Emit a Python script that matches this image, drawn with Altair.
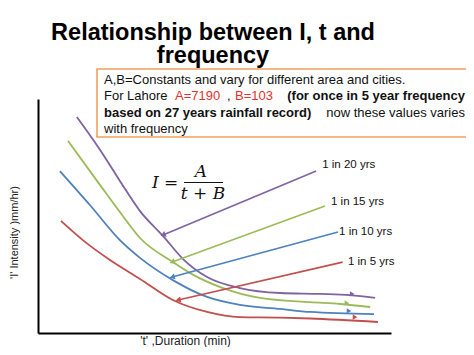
import math
import altair as alt
import pandas as pd

# ---------------- data ----------------
series = ["1 in 20 yrs", "1 in 15 yrs", "1 in 10 yrs", "1 in 5 yrs"]
colors = ["#7F63A2", "#9BBB59", "#4F81BD", "#C0504D"]

# duration t (arbitrary units 0-100) and intensity I (arbitrary units 0-100)
t_20 = [11.0, 17.6, 23.2, 28.9, 35.4, 41.1, 47.9, 57.2, 68.6, 79.9, 88.4, 95.5]
i_20 = [92.3, 78.2, 65.0, 52.1, 41.5, 31.6, 23.9, 19.2, 17.1, 16.7, 16.2, 15.0]
t_15 = [8.5, 17.6, 23.2, 28.9, 38.2, 43.1, 52.4, 62.9, 77.1, 85.6, 94.1]
i_15 = [82.1, 63.2, 51.7, 40.6, 30.3, 25.6, 19.2, 15.0, 13.2, 12.4, 11.1]
t_10 = [6.2, 14.7, 23.2, 28.9, 38.2, 47.9, 57.2, 68.6, 77.1, 95.2]
i_10 = [69.2, 54.7, 39.7, 32.1, 22.6, 15.4, 12.0, 10.3, 9.0, 8.1]
t_5 = [6.5, 12.7, 20.4, 28.9, 38.2, 47.9, 57.2, 68.6, 77.1, 96.3]
i_5 = [47.9, 39.7, 31.2, 23.1, 14.1, 9.0, 6.8, 6.6, 6.2, 4.7]

# label anchors and pointer arrows (label -> curve)
label_t = [80.5, 83.0, 85.3, 87.8]
label_i = [70.5, 54.7, 41.9, 29.1]
ptr_t0 = [78.8, 81.3, 85.0, 86.3]
ptr_i0 = [69.2, 54.3, 43.2, 30.3]
ptr_t1 = [35.4, 38.0, 38.0, 39.7]
ptr_i1 = [41.9, 30.3, 23.9, 14.1]

# arrow heads drawn on the curves near their right end
head_t = [89.0, 87.5, 88.1, 89.8]
head_i = [16.7, 12.8, 9.4, 6.8]

title_lines = ["Relationship between I, t and", "frequency"]
x_title = "'t' ,Duration (min)"
y_title = "'I' Intensity )mm/hr)"

# ---------------- layout ----------------
W, H = 353, 234          # plot area (axes box)
PAD = {"left": 30, "top": 91, "right": 75, "bottom": 14}
FONT = "Liberation Sans"

curve_rows = []
for s, ts, is_ in zip(series, [t_20, t_15, t_10, t_5], [i_20, i_15, i_10, i_5]):
    for k, (t, i) in enumerate(zip(ts, is_)):
        curve_rows.append({"series": s, "t": t, "I": i, "k": k})
curves_df = pd.DataFrame(curve_rows)

def angle(t0, i0, t1, i1):
    dx = (t1 - t0) * W / 100.0
    dy = (i1 - i0) * H / 100.0
    return math.degrees(math.atan2(dx, dy)) % 360

ptr_df = pd.DataFrame({
    "series": series, "t0": ptr_t0, "i0": ptr_i0, "t1": ptr_t1, "i1": ptr_i1,
    "ang": [angle(a, b, c, d) for a, b, c, d in zip(ptr_t0, ptr_i0, ptr_t1, ptr_i1)],
})
head_df = pd.DataFrame({"series": series, "t": head_t, "I": head_i})
label_df = pd.DataFrame({"series": series, "t": label_t, "I": label_i})

xs = alt.Scale(domain=[0, 100], nice=False, zero=False)
ys = alt.Scale(domain=[0, 100], nice=False, zero=False)
cs = alt.Scale(domain=series, range=colors)

curves = alt.Chart(curves_df).mark_line(interpolate="monotone", strokeWidth=1.8).encode(
    x=alt.X("t:Q", scale=xs, axis=alt.Axis(
        title=x_title, labels=False, ticks=False, grid=False, domainColor="black",
        domainWidth=2, titleFont=FONT, titleFontSize=12, titleFontWeight="normal",
        titleColor="#222", titleX=147, titleY=11, titleBaseline="alphabetic",
        titleAlign="center")),
    y=alt.Y("I:Q", scale=ys, axis=alt.Axis(
        title=y_title, labels=False, ticks=False, grid=False, domainColor="black",
        domainWidth=2, titleFont=FONT, titleFontSize=11, titleFontWeight="normal",
        titleColor="#222", titleX=-24, titleY=133, titleAlign="center",
        titleBaseline="middle", titleAngle=270)),
    color=alt.Color("series:N", scale=cs, legend=None),
    detail="series:N",
    order="k:Q",
)

pointers = alt.Chart(ptr_df).mark_rule(strokeWidth=1.6).encode(
    x=alt.X("t0:Q", scale=xs), y=alt.Y("i0:Q", scale=ys),
    x2="t1:Q", y2="i1:Q",
    color=alt.Color("series:N", scale=cs, legend=None),
)
ptr_heads = alt.Chart(ptr_df).mark_point(shape="triangle-up", filled=True, size=38, opacity=1).encode(
    x=alt.X("t1:Q", scale=xs), y=alt.Y("i1:Q", scale=ys),
    angle=alt.Angle("ang:Q", scale=None),
    color=alt.Color("series:N", scale=cs, legend=None),
)
curve_heads = alt.Chart(head_df).mark_point(shape="triangle-up", filled=True, size=28, opacity=1, angle=92).encode(
    x=alt.X("t:Q", scale=xs), y=alt.Y("I:Q", scale=ys),
    color=alt.Color("series:N", scale=cs, legend=None),
)
labels = alt.Chart(label_df).mark_text(align="left", baseline="alphabetic", font=FONT,
                                        fontSize=11.5, color="#111").encode(
    x=alt.X("t:Q", scale=xs), y=alt.Y("I:Q", scale=ys), text="series:N",
)

one = pd.DataFrame({"a": [0]})

def txt(s, px, py, size=13, color="#111", weight="normal", align="left",
        font=FONT, style="normal"):
    return alt.Chart(one).mark_text(
        text=s, align=align, baseline="alphabetic", font=font, fontSize=size,
        color=color, fontWeight=weight, fontStyle=style,
    ).encode(x=alt.value(px - 38), y=alt.value(py - 99))

# title (two lines)
title = [
    txt(title_lines[0], 213, 40, size=23.5, color="black", weight="bold", align="center"),
    txt(title_lines[1], 213, 63, size=23.5, color="black", weight="bold", align="center"),
]

# explanation box
box = alt.Chart(one).mark_rect(fill="white", stroke="#F2A05E", strokeWidth=1.6).encode(
    x=alt.value(97 - 38), x2=alt.value(490 - 38),
    y=alt.value(69 - 99), y2=alt.value(137 - 99),
)
RED = "#E2312F"
box_text = [
    txt("A,B=Constants and vary for different area and cities.", 104, 84),
    txt("For Lahore", 104, 100),
    txt("A=7190", 175, 100, color=RED),
    txt(",", 227, 100),
    txt("B=103", 235, 100, color=RED),
    txt("(for once in 5 year frequency", 465, 100, weight="bold", align="right"),
    txt("based on 27 years rainfall record)", 104, 117, weight="bold"),
    txt("now these values varies", 465, 117, align="right"),
    txt("with frequency", 104, 133),
]

# formula I = A / (t + B)
SERIF = "DejaVu Serif"
formula = [
    txt("I =", 152, 188, size=17, font=SERIF, style="italic"),
    txt("A", 201, 177, size=17, font=SERIF, style="italic", align="center"),
    txt("t + B", 203, 199, size=17, font=SERIF, style="italic", align="center"),
    alt.Chart(one).mark_rule(color="#111", strokeWidth=1.2).encode(
        x=alt.value(184 - 38), x2=alt.value(223 - 38), y=alt.value(182.5 - 99)),
]

chart = alt.layer(
    curves, pointers, ptr_heads, curve_heads, labels, box, *box_text, *formula, *title,
).properties(
    width=W, height=H, autosize=alt.AutoSizeParams(type="none"), padding=PAD,
    background="white",
).configure_view(stroke=None)

chart.save("out.html", embed_options={"renderer": "svg", "actions": False})
